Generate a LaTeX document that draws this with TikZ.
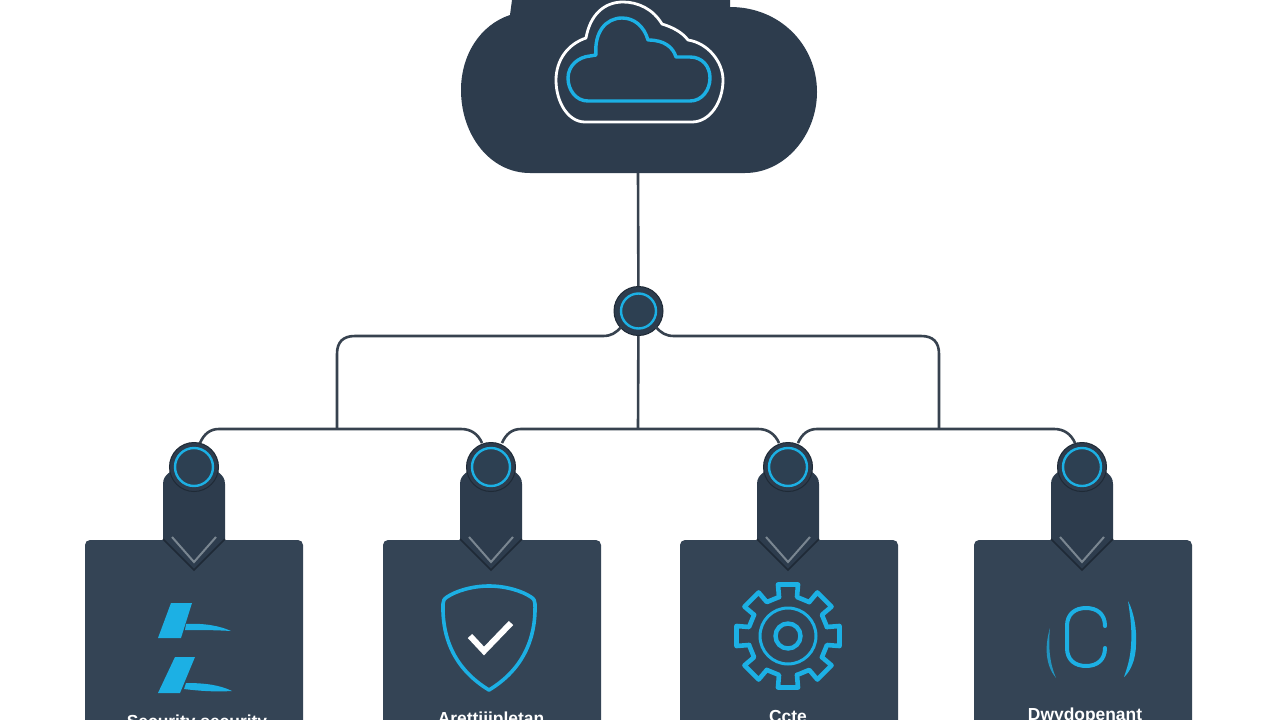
\documentclass[tikz,border=0pt]{standalone}
\usepackage{fontspec}
\setmainfont{Liberation Sans}
\definecolor{navy}{HTML}{2D3C4D}
\definecolor{cardc}{HTML}{344455}
\definecolor{linec}{HTML}{37424F}
\definecolor{hubin}{HTML}{2D4052}
\definecolor{sky}{HTML}{1CB0E4}
\definecolor{chev}{HTML}{7A8691}
\definecolor{chevd}{HTML}{1F2A36}
\tikzset{
  x=1pt,y=-1pt,
  wire/.style={draw=linec,line width=2.6pt,line join=round},
  hub/.style={circle,fill=navy,draw=chevd,line width=1pt,minimum size=49pt,inner sep=0pt},
  ring/.style={draw=sky,fill=hubin,line width=2.4pt},
  card/.style={fill=cardc,draw=none,rounded corners=5pt},
  stem/.style={fill=navy,draw=none},
  chevline/.style={draw=chev,line width=2pt},
  chevedge/.style={draw=chevd,line width=1.6pt},
  icon/.style={draw=sky,line width=3.2pt,line join=round,line cap=round},
  solidicon/.style={fill=sky,draw=none},
  label/.style={text=white,font=\fontsize{17.4}{20}\selectfont\bfseries,inner sep=0pt,anchor=base}
}
\newcommand{\pendant}[2]{% cx, name
  \fill[stem] (#1-31,539) -- (#1-31,484) .. controls (#1-31,478) and (#1-28,475) .. (#1-24,472) -- (#1+24,472) .. controls (#1+28,475) and (#1+31,478) .. (#1+31,484) -- (#1+31,539) -- (#1,570) -- cycle;
  \draw[chevedge] (#1-31,539) -- (#1,570) -- (#1+31,539);
  \draw[chevline] (#1-22,537) -- (#1,562) -- (#1+22,537);
  \node[hub] (#2) at (#1,467) {};
  \draw[ring] (#2) circle[radius=19];
}
\begin{document}
\begin{tikzpicture}
\useasboundingbox (0,0) rectangle (1280,720);
\fill[white] (0,0) rectangle (1280,720);
\begin{scope}
\clip (0,0) rectangle (1280,720);
% big cloud
\fill[navy] (510,15) -- (512,0) -- (730,0) -- (730,7)
  .. controls (780,7) and (817,45) .. (817,92)
  .. controls (817,135) and (785,173) .. (745,173)
  -- (530,173)
  .. controls (490,173) and (461,135) .. (461,90)
  .. controls (461,55) and (480,25) .. (510,15) -- cycle;
% inner cloud outlines
\draw[white,line width=2.8pt,line join=round]
  (585,122) -- (692,122)
  .. controls (710,122) and (723,102) .. (723,80)
  .. controls (723,62) and (708,43) .. (688,40)
  .. controls (682,32) and (672,27) .. (662,24)
  .. controls (653,9) and (638,2) .. (623,2)
  .. controls (604,2) and (590,15) .. (586,38)
  .. controls (568,44) and (556,60) .. (556,80)
  .. controls (556,102) and (568,122) .. (585,122) -- cycle;
\draw[sky,line width=3.4pt,line join=round]
  (588,101) -- (690,101)
  .. controls (702,101) and (710,90) .. (710,78)
  .. controls (710,66) and (702,57) .. (690,57)
  -- (676,57)
  .. controls (673,47) and (664,40) .. (648,40)
  .. controls (644,26) and (634,18) .. (622,18)
  .. controls (606,18) and (594,32) .. (596,55)
  -- (590,56)
  .. controls (578,57) and (568,66) .. (568,78)
  .. controls (568,90) and (576,101) .. (588,101) -- cycle;
% connectors
\node[hub] (top) at (638.5,311) {};
\coordinate (cloudb) at (638,173);
\coordinate (busc) at (638,429);
\coordinate (busl) at (337,429);
\coordinate (busr) at (939,429);
% cards
\foreach \x/\w in {85/218,383/218,680/218,974/218}
  \fill[card] (\x,540) rectangle (\x+\w,740);
\draw[wire] (cloudb) -- (top);
\draw[wire] (top) -- (busc);
\draw[wire] (621,327) .. controls (616,333) and (611,336) .. (603,336) -- (355,336) .. controls (343,336) and (337,342) .. (337,354) -- (busl);
\draw[wire] (656,327) .. controls (661,333) and (666,336) .. (674,336) -- (921,336) .. controls (933,336) and (939,342) .. (939,354) -- (busr);
\draw[ring] (top) circle[radius=17.5];
% bottom bus
\draw[wire] (200,443) .. controls (204,434) and (210,429) .. (219,429) -- (461,429) .. controls (471,429) and (478,434) .. (482,443);
\draw[wire] (502,443) .. controls (506,434) and (512,429) .. (521,429) -- (758,429) .. controls (768,429) and (775,434) .. (779,443);
\draw[wire] (798,443) .. controls (802,434) and (808,429) .. (817,429) -- (1054,429) .. controls (1064,429) and (1071,434) .. (1075,443);
\pendant{194}{n1}
\pendant{491}{n2}
\pendant{788}{n3}
\pendant{1082}{n4}
% icon 1
\fill[solidicon] (171,603) -- (192,603) -- (181,638) -- (158,638) -- cycle;
\fill[solidicon] (186,624) .. controls (205,623) and (220,626) .. (231,631) .. controls (215,630) and (200,630) .. (185,630) -- cycle;
\fill[solidicon] (175,657) -- (195,657) -- (180,693) -- (158,693) -- cycle;
\fill[solidicon] (186,683) .. controls (205,683) and (220,685) .. (232,691) .. controls (215,692) and (200,691) .. (184,689) -- cycle;
% icon 2 shield
\draw[icon,line width=3.6pt] (489,586) .. controls (472,586) and (456,591) .. (447,597)
  .. controls (444,599) and (443,601) .. (443,604)
  .. controls (442,640) and (456,670) .. (489,690)
  .. controls (522,670) and (536,640) .. (535,604)
  .. controls (535,601) and (534,599) .. (531,597)
  .. controls (522,591) and (506,586) .. (489,586) -- cycle;
\draw[white,line width=6pt] (470,636) -- (484,651) -- (511,623);
% icon 3 gear
\begin{scope}[shift={(788,636)}]
\foreach \a in {0,45,...,315}
  \draw[icon,line cap=round,line width=4.6pt]
    (\a-13:40) -- (\a-11:52.5) -- (\a+11:52.5) -- (\a+13:40) -- (\a+32:40);
\draw[sky,line width=3pt] (0,0) circle[radius=28];
\draw[sky,line width=4.4pt] (0,0) circle[radius=12.5];
\end{scope}
% icon 4
\draw[sky,line width=4pt,line cap=round] (1105,626) .. controls (1105,614) and (1097,608) .. (1086,608)
  .. controls (1075,608) and (1067,614) .. (1067,626) -- (1067,648)
  .. controls (1067,660) and (1075,666) .. (1086,666) .. controls (1097,666) and (1105,660) .. (1105,648);
\fill[sky!75!cardc] (1050,628) .. controls (1044,648) and (1046,666) .. (1056,678) .. controls (1050,664) and (1048,648) .. (1050,628) -- cycle;
\fill[sky] (1128,601) .. controls (1131,620) and (1132,632) .. (1131,646) .. controls (1130,660) and (1127,668) .. (1124,677) .. controls (1130,672) and (1136,660) .. (1136,644) .. controls (1137,630) and (1134,612) .. (1128,601) -- cycle;
% labels
\node[label] (l1) at (197,727) {Security security};
\node[label] (l2) at (491,724) {Arettiiipletan};
\node[label] (l3) at (788,722) {Ccte};
\node[label] (l4) at (1085,720) {Dwydopenant};
\end{scope}
\end{tikzpicture}
\end{document}
